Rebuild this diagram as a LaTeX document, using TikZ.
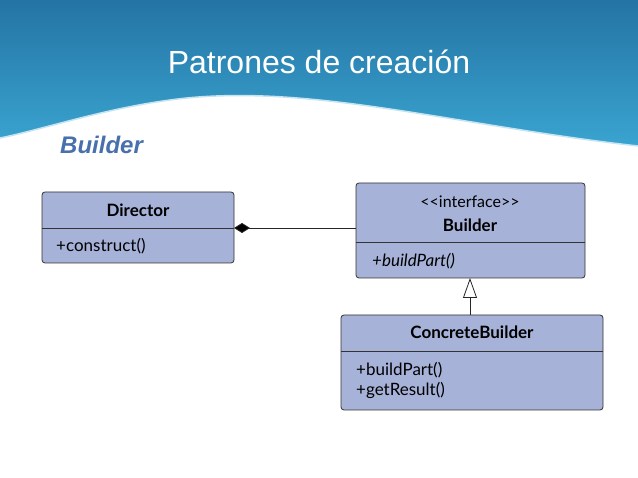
\documentclass[tikz,border=0pt]{standalone}
\usepackage{fontspec}
\setmainfont{Liberation Sans}
\newfontfamily\umlfont{Lato}
\usetikzlibrary{arrows.meta}
\definecolor{boxfill}{RGB}{166,178,216}
\definecolor{topblue}{RGB}{36,116,164}
\definecolor{lowblue}{RGB}{58,164,208}
\definecolor{subblue}{RGB}{72,112,172}
\tikzset{
  umlbox/.style={draw=black!80, fill=boxfill, rounded corners=3pt, line width=0.8pt},
  divline/.style={draw=black!80, line width=0.8pt},
  umltext/.style={font=\umlfont\fontsize{17}{20}\selectfont, anchor=west, inner sep=0pt},
  umltitle/.style={font=\umlfont\bfseries\fontsize{17}{20}\selectfont, inner sep=0pt},
  conn/.style={line width=0.8pt, draw=black!85}
}
\begin{document}
\begin{tikzpicture}[x=1pt,y=-1pt]
\useasboundingbox (0,0) rectangle (638,478);
\fill[white] (0,0) rectangle (638,478);
\shade[top color=topblue, bottom color=lowblue]
  (0,0) -- (638,0) -- (638,146) .. controls (450,125) and (300,80) .. (163,101)
  .. controls (100,110) and (40,130) .. (0,138) -- cycle;
\draw[white!70!lowblue, line width=1.5pt] (638,146) .. controls (450,125) and (300,80) .. (163,101)
  .. controls (100,110) and (40,130) .. (0,138);
\node[text=white, font=\fontsize{32}{36}\selectfont] (title) at (319,62) {Patrones de creación};
\node[text=subblue, font=\bfseries\itshape\fontsize{24}{28}\selectfont, anchor=west, inner sep=0pt] (sub) at (60,145) {Builder};
% Director
\draw[umlbox] (42,192) rectangle (234,263);
\draw[divline] (42,228) -- (234,228);
\node[umltitle] (dirname) at (138,210) {Director};
\node[umltext] (dirop) at (56,246) {+construct()};
% Builder
\draw[umlbox] (356,183) rectangle (585,278);
\draw[divline] (356,242) -- (585,242);
\node[font=\umlfont\fontsize{16}{20}\selectfont, inner sep=0pt] (stereo) at (470,202) {<<interface>>};
\node[umltitle] (bname) at (470,225) {Builder};
\node[umltext, font=\umlfont\itshape\fontsize{17}{20}\selectfont] (bop) at (372,261) {+buildPart()};
% ConcreteBuilder
\draw[umlbox] (341,315) rectangle (603,410);
\draw[divline] (341,351) -- (603,351);
\node[umltitle] (cname) at (472,332) {ConcreteBuilder};
\node[umltext] (cop1) at (356,370) {+buildPart()};
\node[umltext] (cop2) at (356,390) {+getResult()};
% connectors
\coordinate (dirR) at (234,228);
\coordinate (bL) at (356,228);
\coordinate (bB) at (470,278);
\coordinate (cT) at (470,315);
\draw[conn, {Diamond[length=16pt,width=10pt,fill=black]}-] (dirR) -- (bL);
\draw[conn, -{Triangle[open,length=20pt,width=14pt,fill=white]}] (cT) -- (bB);
\end{tikzpicture}
\end{document}
